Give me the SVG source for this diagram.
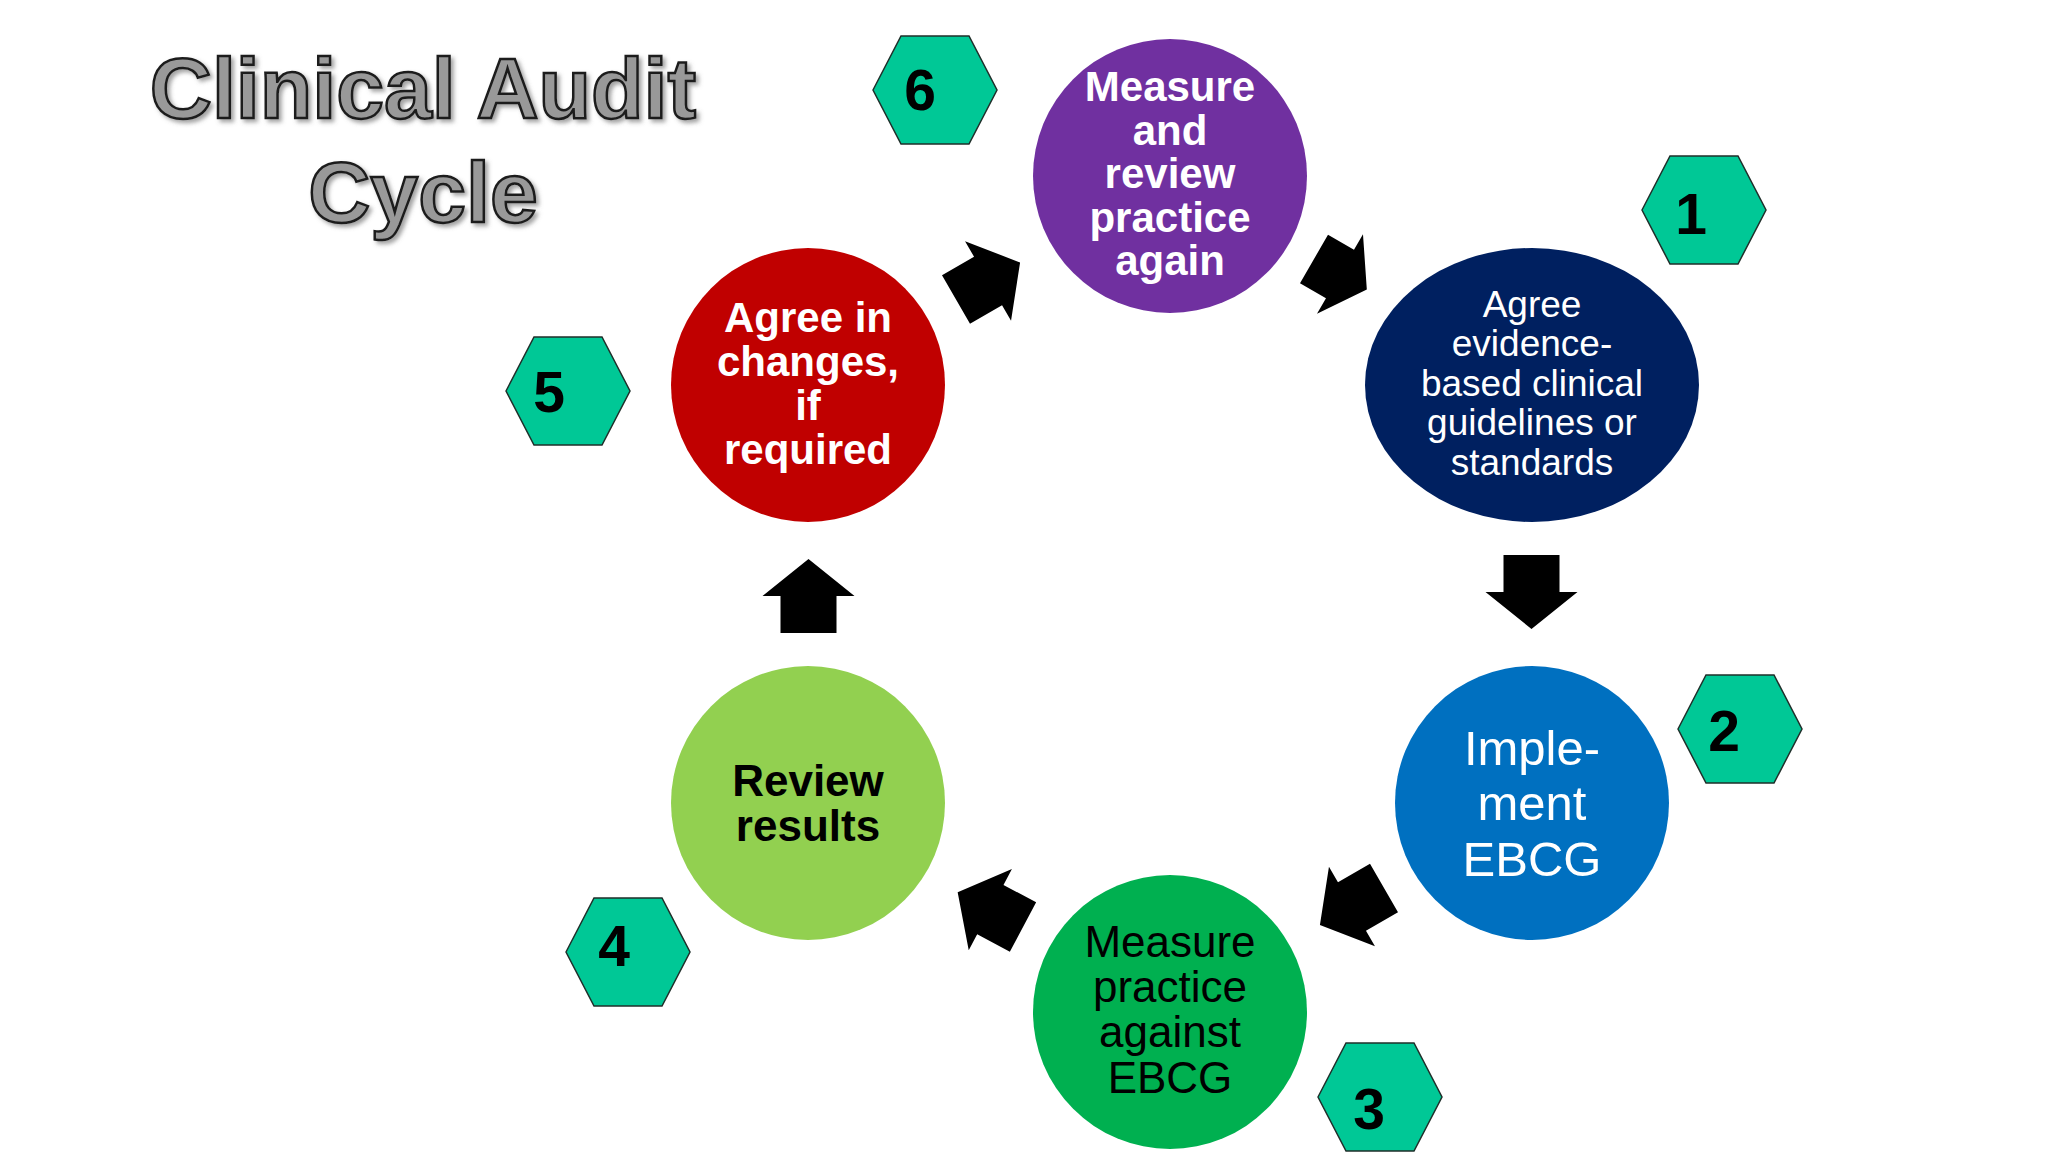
<svg xmlns="http://www.w3.org/2000/svg" xmlns:xlink="http://www.w3.org/1999/xlink" width="2048" height="1152" viewBox="0 0 2048 1152">
  <defs>
    <style>
      .title { font-family: "Liberation Sans", Arial, sans-serif; font-weight: bold; font-size: 86px; fill: #999999; stroke: #1a1a1a; stroke-width: 2.5; text-anchor: middle; }
      .hex { fill: #00C896; stroke: #1f2f2a; stroke-width: 1.5; }
      .num { font-family: "Liberation Sans", Arial, sans-serif; font-weight: bold; font-size: 57px; fill: #000; text-anchor: middle; }
      .lbl { font-family: "Liberation Sans", Arial, sans-serif; text-anchor: middle; }
      .b { font-weight: bold; }
      .w { fill: #ffffff; }
      .k { fill: #000000; }
      .arrow { fill: #000000; }
    </style>
    <filter id="shadow" x="-10%" y="-10%" width="120%" height="130%">
      <feDropShadow dx="3" dy="3" stdDeviation="2" flood-color="#666666" flood-opacity="0.6"/>
    </filter>
    <polygon id="hexShape" points="-62,0 -34,-54 34,-54 62,0 34,54 -34,54"/>
    <path id="arr" d="M0,-28 L37,-28 L37,-46 L74,0 L37,46 L37,28 L0,28 Z"/>
    <path id="arrS" d="M0,-28 L30,-28 L30,-46 L61,0 L30,46 L30,28 L0,28 Z"/>
  </defs>

  <rect width="2048" height="1152" fill="#ffffff"/>

  <g id="title" filter="url(#shadow)">
    <text class="title" x="423" y="118">Clinical Audit</text>
    <text class="title" x="423" y="222">Cycle</text>
  </g>

  <g id="connectors">
    <use xlink:href="#arr" class="arrow" transform="translate(956,299.5) rotate(-30)"/>
    <use xlink:href="#arrS" class="arrow" transform="translate(1314,259) rotate(30)"/>
    <use xlink:href="#arr" class="arrow" transform="translate(1531.5,555) rotate(90)"/>
    <use xlink:href="#arr" class="arrow" transform="translate(1384,888) rotate(150)"/>
    <use xlink:href="#arr" class="arrow" transform="translate(1023,927) rotate(208)"/>
    <use xlink:href="#arr" class="arrow" transform="translate(808.5,633) rotate(-90)"/>
  </g>

  <g id="node-measure-review">
    <circle cx="1170" cy="176" r="137" fill="#7030A0"/>
    <text class="lbl b w" font-size="42"><tspan x="1170" y="101">Measure</tspan><tspan x="1170" y="144.5">and</tspan><tspan x="1170" y="188">review</tspan><tspan x="1170" y="231.5">practice</tspan><tspan x="1170" y="275">again</tspan></text>
  </g>

  <g id="node-agree-guidelines">
    <ellipse cx="1532" cy="385" rx="167" ry="137" fill="#002060"/>
    <text class="lbl w" font-size="37"><tspan x="1532" y="317">Agree</tspan><tspan x="1532" y="356">evidence-</tspan><tspan x="1532" y="396">based clinical</tspan><tspan x="1532" y="435">guidelines or</tspan><tspan x="1532" y="475">standards</tspan></text>
  </g>

  <g id="node-implement">
    <circle cx="1532" cy="803" r="137" fill="#0070C0"/>
    <text class="lbl w" font-size="49"><tspan x="1532" y="765">Imple-</tspan><tspan x="1532" y="820">ment</tspan><tspan x="1532" y="876">EBCG</tspan></text>
  </g>

  <g id="node-measure-practice">
    <circle cx="1170" cy="1012" r="137" fill="#00B050"/>
    <text class="lbl k" font-size="44"><tspan x="1170" y="957">Measure</tspan><tspan x="1170" y="1002">practice</tspan><tspan x="1170" y="1047">against</tspan><tspan x="1170" y="1093">EBCG</tspan></text>
  </g>

  <g id="node-review-results">
    <circle cx="808" cy="803" r="137" fill="#92D050"/>
    <text class="lbl b k" font-size="44"><tspan x="808" y="796">Review</tspan><tspan x="808" y="841">results</tspan></text>
  </g>

  <g id="node-agree-changes">
    <circle cx="808" cy="385" r="137" fill="#C00000"/>
    <text class="lbl b w" font-size="42"><tspan x="808" y="332">Agree in</tspan><tspan x="808" y="376">changes,</tspan><tspan x="808" y="420">if</tspan><tspan x="808" y="464">required</tspan></text>
  </g>

  <g id="hex-1">
    <use xlink:href="#hexShape" class="hex" transform="translate(1704,210)"/>
    <text class="num" x="1691" y="234">1</text>
  </g>
  <g id="hex-2">
    <use xlink:href="#hexShape" class="hex" transform="translate(1740,729)"/>
    <text class="num" x="1724" y="751">2</text>
  </g>
  <g id="hex-3">
    <use xlink:href="#hexShape" class="hex" transform="translate(1380,1097)"/>
    <text class="num" x="1369" y="1129">3</text>
  </g>
  <g id="hex-4">
    <use xlink:href="#hexShape" class="hex" transform="translate(628,952)"/>
    <text class="num" x="614" y="966">4</text>
  </g>
  <g id="hex-5">
    <use xlink:href="#hexShape" class="hex" transform="translate(568,391)"/>
    <text class="num" x="549" y="412">5</text>
  </g>
  <g id="hex-6">
    <use xlink:href="#hexShape" class="hex" transform="translate(935,90)"/>
    <text class="num" x="920" y="110">6</text>
  </g>
</svg>
